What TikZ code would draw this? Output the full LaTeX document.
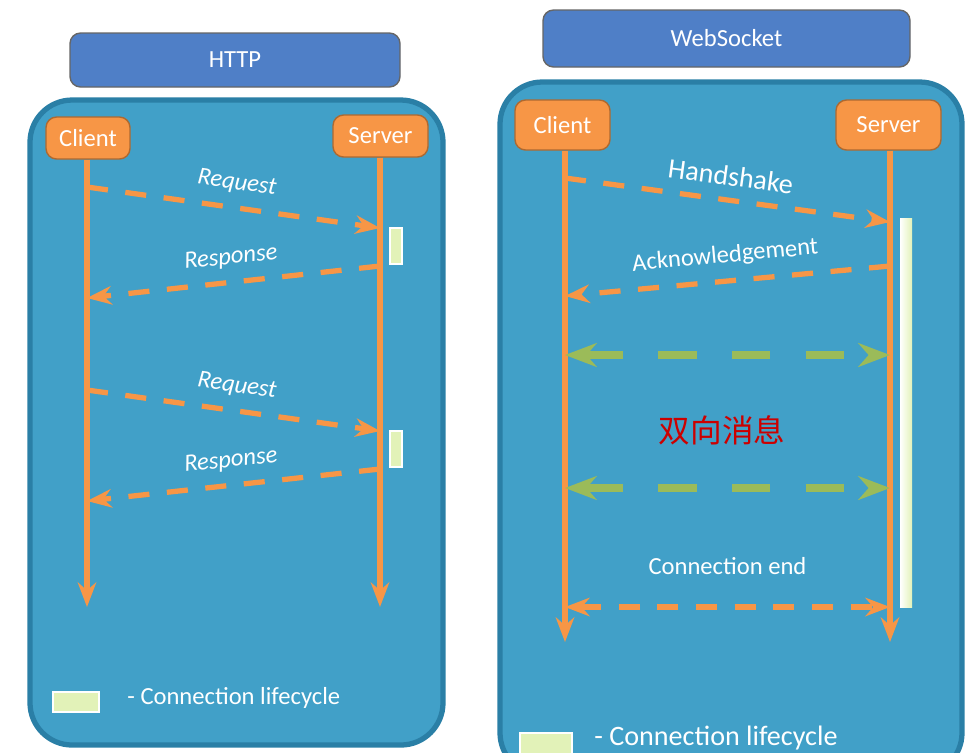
\documentclass[tikz,border=0pt]{standalone}
\usepackage{fontspec}
\setmainfont{Carlito}
\newfontfamily\cjk{Noto Sans CJK SC}
\usetikzlibrary{positioning,arrows.meta}
\definecolor{panel}{HTML}{41A0C8}
\definecolor{panelline}{HTML}{2A7FA6}
\definecolor{titlefill}{HTML}{4F7FC7}
\definecolor{actor}{HTML}{F79646}
\definecolor{msg}{HTML}{F79646}
\definecolor{duplex}{HTML}{9BBB59}
\definecolor{life}{HTML}{E2F2B8}
\tikzset{
  panelbox/.style = {draw=panelline, line width=1.5pt, fill=panel, rounded corners=12pt},
  titlebox/.style = {draw=black!60, fill=titlefill, rounded corners=3pt, font=\scriptsize, text=white},
  actorbox/.style = {draw=actor!70!black, fill=actor, rounded corners=3pt, text=white, font=\scriptsize, minimum height=0.42cm},
  lifeline/.style = {draw=msg, line width=1.5pt, -{Stealth[length=7pt]}},
  message/.style = {draw=msg, line width=1.5pt, dash pattern=on 6pt off 5pt, -{Stealth[length=7pt]}},
  both/.style = {draw=duplex, line width=2.2pt, dash pattern=on 11pt off 10pt, {Stealth[length=9pt]}-{Stealth[length=9pt]}},
  msglabel/.style = {text=white, font=\scriptsize\itshape, sloped, above},
  bar/.style = {draw=none, left color=white, right color=life},
}
\begin{document}
\begin{tikzpicture}[y=-1cm]
\useasboundingbox (0,0) rectangle (9.67,7.52);

% HTTP
\node[titlebox, minimum width=3.3cm, minimum height=0.54cm] (httpT) at (2.35,0.60) {HTTP};
\draw[panelbox] (0.30,1.00) rectangle (4.43,7.45);
\node[actorbox, minimum width=0.84cm] (hC) at (0.88,1.38) {Client};
\node[actorbox, minimum width=0.95cm] (hS) at (3.805,1.36) {Server};
\coordinate (hCe) at (0.87,6.07);
\coordinate (hSe) at (3.80,6.07);
\draw[lifeline] (hC.south -| hCe) -- (hCe);
\draw[lifeline] (hS.south -| hSe) -- (hSe);
\foreach \y/\n in {0/1,2.03/2} {
  \coordinate (hq\n) at (0.87,1.87+\y);
  \coordinate (hr\n) at (3.80,2.28+\y);
  \coordinate (hs\n) at (3.80,2.66+\y);
  \coordinate (ht\n) at (0.87,2.98+\y);
  \draw[message] (hq\n) -- node[msglabel] {Request} (hr\n);
  \draw[message] (hs\n) -- node[msglabel] {Response} (ht\n);
  \fill[life, draw=white] (3.90,2.28+\y) rectangle (4.02,2.64+\y);
}
\fill[life, draw=white] (0.53,6.92) rectangle (0.99,7.12);
\node[right, text=white, font=\scriptsize] (hL) at (1.15,6.98) {- Connection lifecycle};

% WebSocket
\fill[white] (4.75,0) rectangle (4.90,7.52);
\node[titlebox, minimum width=3.67cm, minimum height=0.57cm] (wsT) at (7.265,0.385) {WebSocket};
\draw[panelbox] (5.00,0.82) rectangle (9.62,7.75);
\node[actorbox, minimum width=0.95cm, minimum height=0.5cm] (wC) at (5.625,1.25) {Client};
\node[actorbox, minimum width=1.05cm, minimum height=0.5cm] (wS) at (8.885,1.25) {Server};
\coordinate (wCe) at (5.65,6.42);
\coordinate (wSe) at (8.90,6.42);
\draw[lifeline] (wC.south -| wCe) -- (wCe);
\draw[lifeline] (wS.south -| wSe) -- (wSe);
\shade[bar] (9.00,2.18) rectangle (9.12,6.07);
\coordinate (wq) at (5.65,1.78);
\coordinate (wr) at (8.90,2.22);
\coordinate (ws) at (8.90,2.66);
\coordinate (wt) at (5.65,2.96);
\draw[message] (wq) -- node[msglabel, font=\footnotesize] {Handshake} (wr);
\draw[message] (ws) -- node[msglabel, font=\scriptsize] {Acknowledgement} (wt);
\foreach \y/\n in {3.55/a,4.88/b} {
  \coordinate (wd\n) at (5.65,\y);
  \coordinate (we\n) at (8.90,\y);
  \draw[both] (wd\n) -- (we\n);
}
\node[text=red!80!black, font=\cjk\small] (wM) at (7.22,4.30) {双向消息};
\coordinate (wx) at (5.65,6.07);
\coordinate (wy) at (8.90,6.07);
\draw[message, {Stealth[length=7pt]}-{Stealth[length=7pt]}] (wx) -- node[above=5pt, text=white, font=\scriptsize] {Connection end} (wy);
\fill[life, draw=white] (5.20,7.33) rectangle (5.72,7.58);
\node[right, text=white, font=\footnotesize] (wL) at (5.82,7.38) {- Connection lifecycle};
\end{tikzpicture}
\end{document}
